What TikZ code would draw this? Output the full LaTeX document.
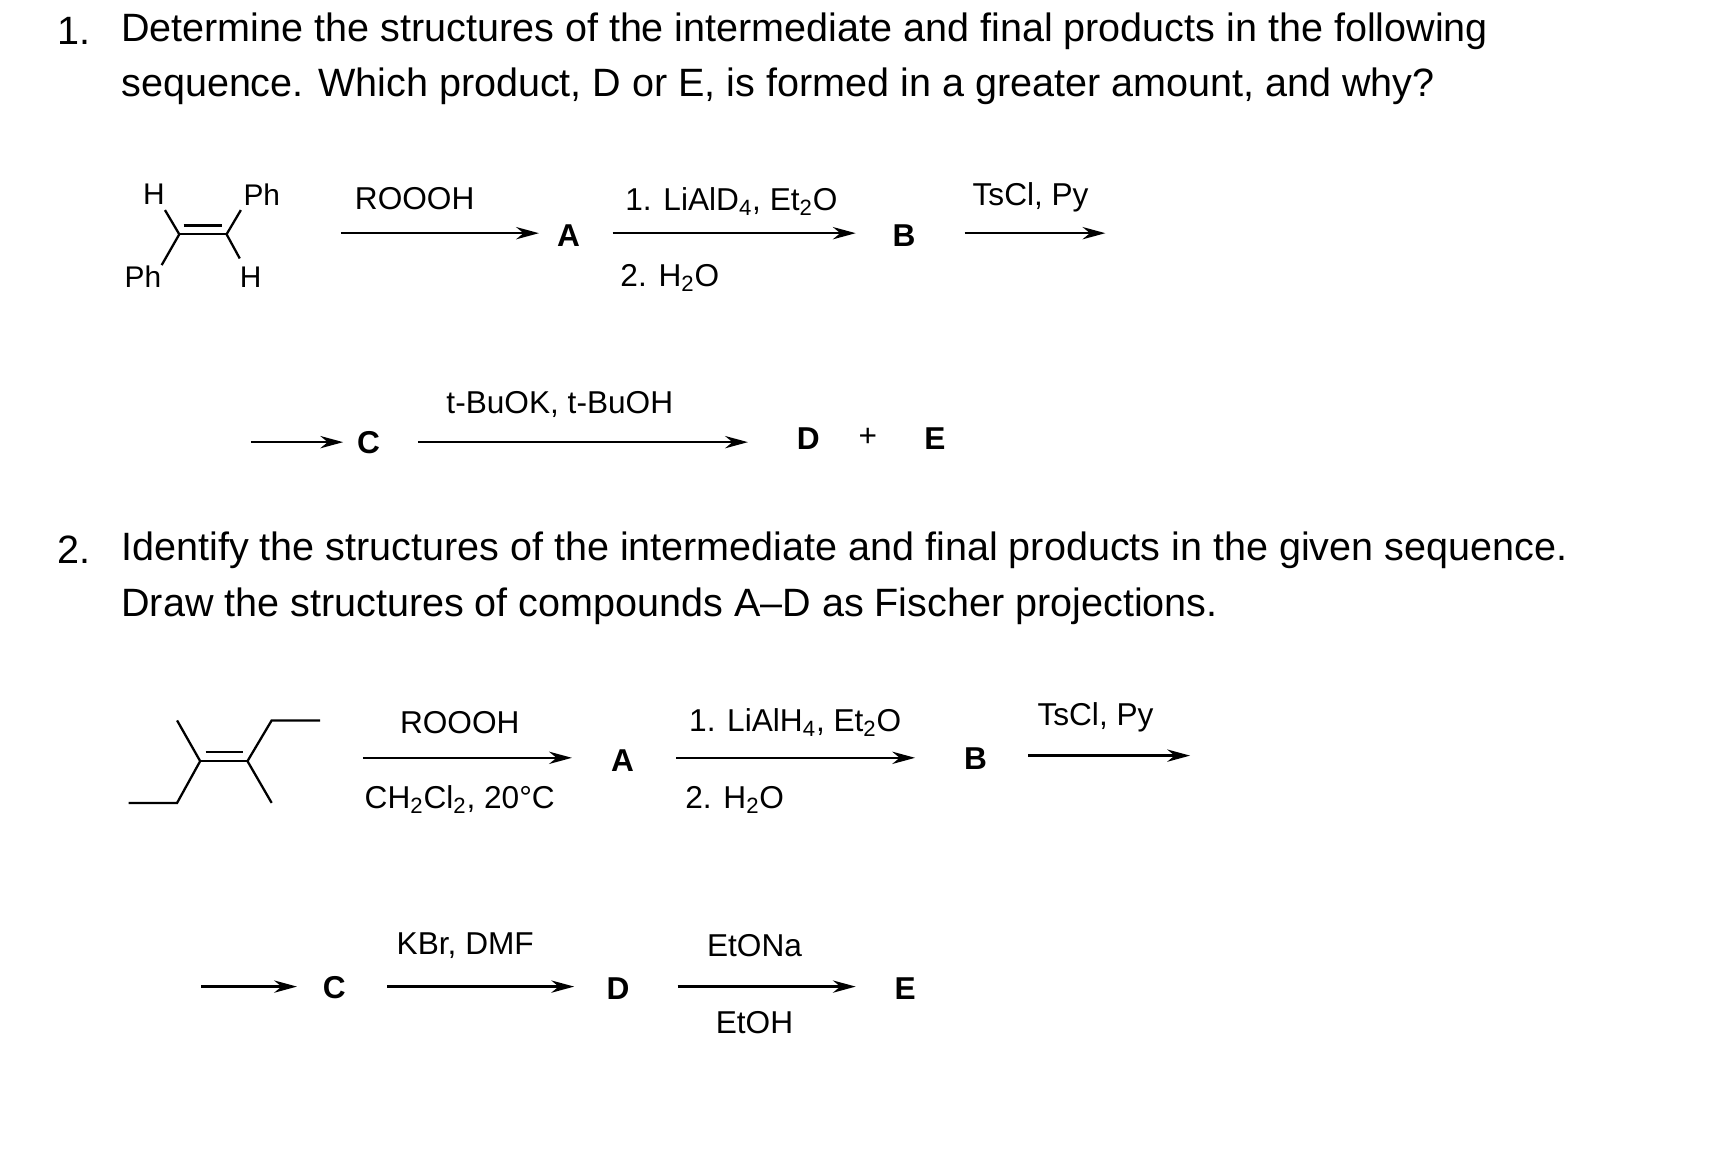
\documentclass[tikz,border=0pt]{standalone}
\usepackage{fontspec}
\setmainfont{Liberation Sans}
\usetikzlibrary{arrows.meta}

\begin{document}
\begin{tikzpicture}
  [x=0.022cm,y=-0.022cm,
   question/.style={anchor=west,inner sep=0,font=\fontsize{22.5}{26}\selectfont},
   reagent/.style={inner sep=0,font=\fontsize{18}{21}\selectfont},
   cpd/.style={inner sep=0,font=\fontsize{18}{21}\selectfont\bfseries},
   atom/.style={inner sep=0,font=\fontsize{17}{20}\selectfont},
   bond/.style={line width=1.3pt},
   rxn/.style={line width=1.3pt,-{Stealth[length=13pt,width=7pt]}}]
  \useasboundingbox (0,0) rectangle (1562,1065);
%  question 1
  \node[question] (q1num) at (52,28) {1.};
  \node[question] (q1a) at (110,28) {Determine the structures of the intermediate and final products in the following};
  \node[question] (q1b) at (110,78) {sequence. Which product, D or E, is formed in a greater amount, and why?};
  % stilbene
  \coordinate (s1) at (163,213);
  \coordinate (s2) at (206,213);
  \node[atom] (h1) at (140,177) {H};
  \node[atom] (ph1) at (238,177) {Ph};
  \node[atom] (ph2) at (130,252) {Ph};
  \node[atom] (h2) at (228,252) {H};
  \draw[bond] (s1) -- (s2);
  \draw[bond] (167,205) -- (202,205);
  \draw[bond] (150,191) -- (s1) -- (147,241);
  \draw[bond] (219,191) -- (s2) -- (218,235);
  \node[reagent] (r1) at (377,181) {ROOOH};
  \node[cpd] (a1) at (517,214) {A};
  \node[reagent] (r2) at (665,183) {1. LiAlD\textsubscript{4}, Et\textsubscript{2}O};
  \node[reagent] (r3) at (609,253) {2. H\textsubscript{2}O};
  \node[cpd] (b1) at (822,214) {B};
  \node[reagent] (r4) at (937,179) {TsCl, Py};
  \coordinate (k1) at (310,212); \coordinate (k2) at (490,212);
  \coordinate (k3) at (557,212); \coordinate (k4) at (778,212);
  \coordinate (k5) at (877,212); \coordinate (k6) at (1005,212);
  \draw[rxn] (k1) -- (k2);
  \draw[rxn] (k3) -- (k4);
  \draw[rxn] (k5) -- (k6);
  \node[cpd] (c1) at (335,402) {C};
  \node[reagent] (r5) at (509,368) {t-BuOK, t-BuOH};
  \node[cpd] (d1) at (735,399) {D};
  \node[reagent] (plus) at (789,398) {+};
  \node[cpd] (e1) at (850,399) {E};
  \coordinate (k7) at (228,402); \coordinate (k8) at (312,402);
  \coordinate (k9) at (380,402); \coordinate (k10) at (680,402);
  \draw[rxn] (k7) -- (k8);
  \draw[rxn] (k9) -- (k10);
%  question 2
  \node[question] (q2num) at (52,500) {2.};
  \node[question] (q2a) at (110,500) {Identify the structures of the intermediate and final products in the given sequence.};
  \node[question] (q2b) at (110,551) {Draw the structures of compounds A--D as Fischer projections.};
  % alkene
  \coordinate (m1) at (182,692);
  \coordinate (m2) at (225,692);
  \draw[bond] (m1) -- (m2);
  \draw[bond] (187,684) -- (221,684);
  \draw[bond] (161,655) -- (m1) -- (161,730) -- (117,730);
  \draw[bond] (291,655) -- (247,655) -- (m2) -- (247,730);
  \node[reagent] (r6) at (418,657) {ROOOH};
  \node[reagent] (r7) at (418,727) {CH\textsubscript{2}Cl\textsubscript{2}, 20°C};
  \node[cpd] (a2) at (566,692) {A};
  \node[reagent] (r8) at (723,657) {1. LiAlH\textsubscript{4}, Et\textsubscript{2}O};
  \node[reagent] (r9) at (668,727) {2. H\textsubscript{2}O};
  \node[cpd] (b2) at (887,690) {B};
  \node[reagent] (r10) at (996,652) {TsCl, Py};
  \coordinate (n1) at (330,689); \coordinate (n2) at (520,689);
  \coordinate (n3) at (615,689); \coordinate (n4) at (832,689);
  \coordinate (n5) at (935,687); \coordinate (n6) at (1082,687);
  \draw[rxn] (n1) -- (n2);
  \draw[rxn] (n3) -- (n4);
  \draw[rxn] (n5) -- (n6);
  \node[cpd] (c2) at (304,898) {C};
  \node[reagent] (r11) at (423,860) {KBr, DMF};
  \node[cpd] (d2) at (562,899) {D};
  \node[reagent] (r12) at (686,860) {EtONa};
  \node[reagent] (r13) at (686,930) {EtOH};
  \node[cpd] (e2) at (823,899) {E};
  \coordinate (n7) at (183,897); \coordinate (n8) at (270,897);
  \coordinate (n9) at (352,897); \coordinate (n10) at (522,897);
  \coordinate (n11) at (616,897); \coordinate (n12) at (778,897);
  \draw[rxn] (n7) -- (n8);
  \draw[rxn] (n9) -- (n10);
  \draw[rxn] (n11) -- (n12);
\end{tikzpicture}
\end{document}
